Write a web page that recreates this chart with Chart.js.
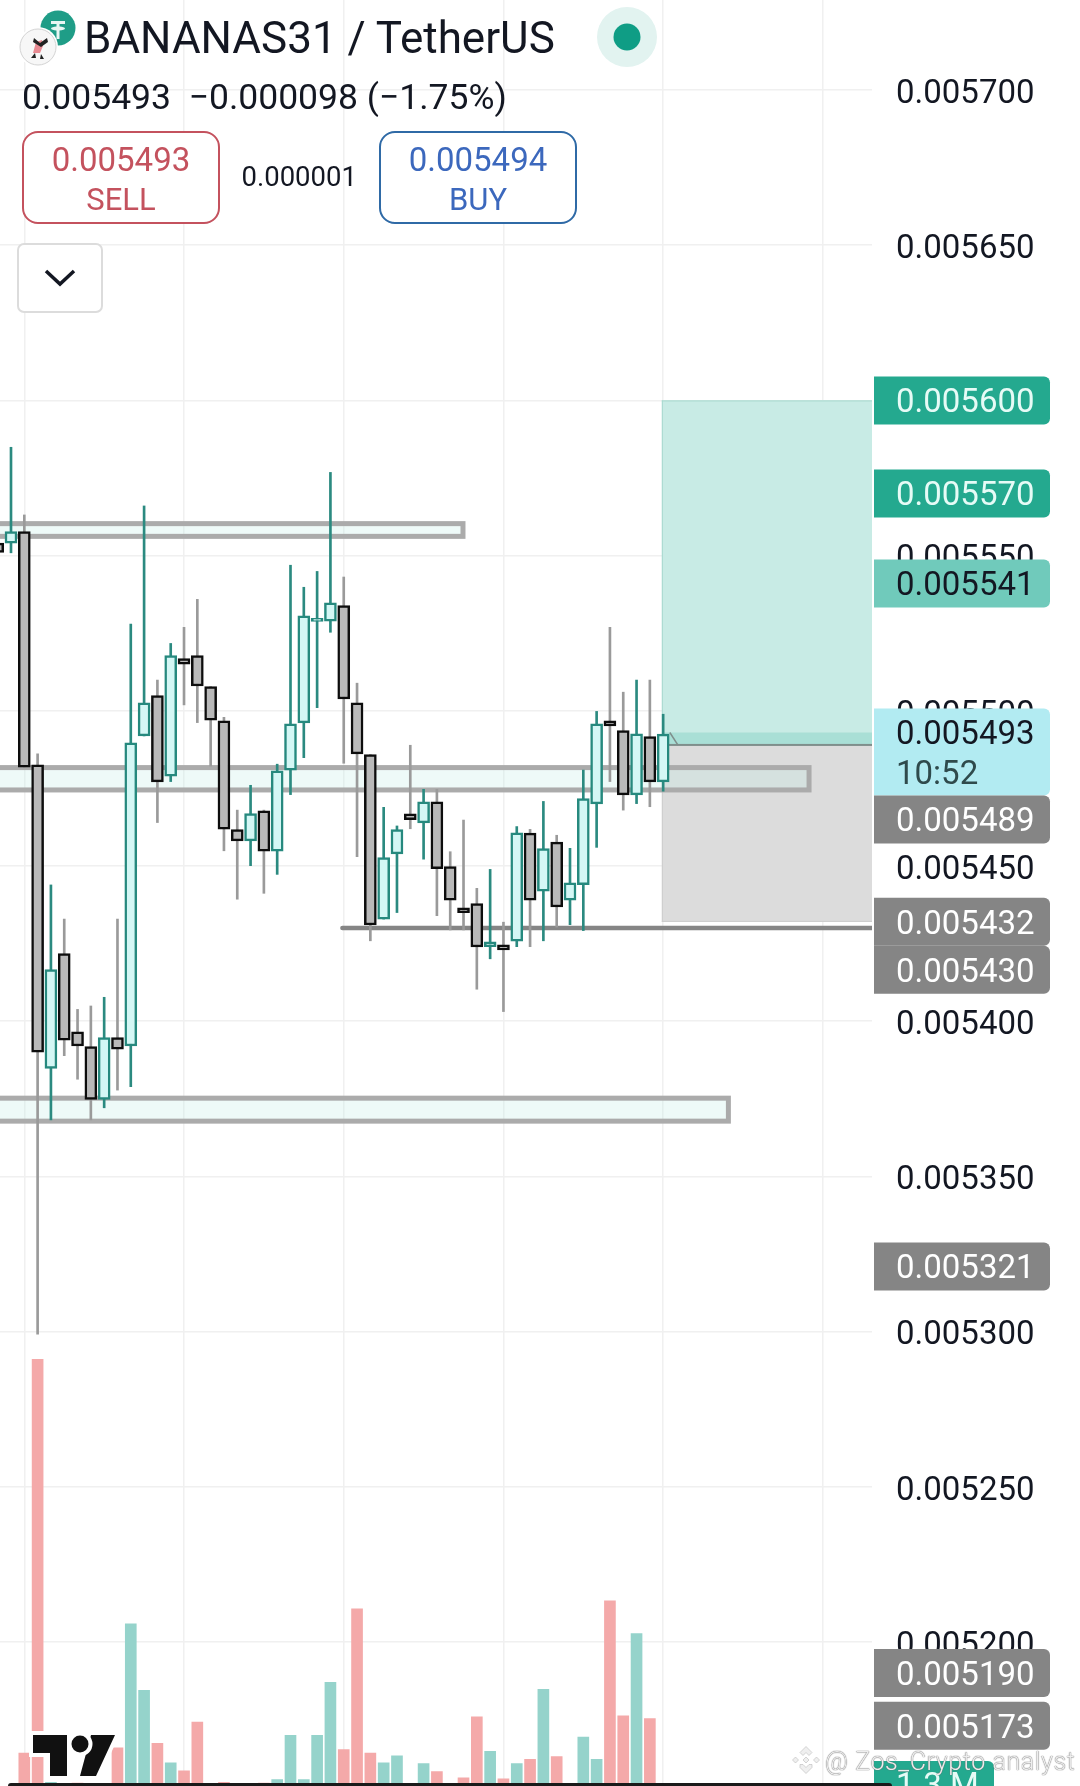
<!DOCTYPE html>
<html>
<head>
<meta charset="utf-8">
<title>BANANAS31 / TetherUS</title>
<script src="https://cdn.jsdelivr.net/npm/chart.js@4"></script>
<style>
html, body { margin: 0; padding: 0; background: #fff; }
#wrap { position: relative; width: 1080px; height: 1786px; overflow: hidden; font-family: Roboto, sans-serif; color: #131722; }
canvas { position: absolute; left: 0; top: 0; }
.txt { position: absolute; white-space: pre; line-height: 1; }
.btn { position: absolute; top: 131px; width: 198px; height: 93px; box-sizing: border-box; border: 2.500px solid; border-radius: 16px; background: #fff; text-align: center; }
.btn div { position: absolute; left: 0; right: 0; line-height: 1; }
.btn .p { top: 10px; font-size: 33px; }
.btn .s { top: 51px; font-size: 31px; }
#logo, #coins, #mark { position: absolute; }
#wm { position: absolute; left: 825px; top: 1749px; font-size: 25px; font-weight: 300; line-height: 1; white-space: pre; color: #eeeeee; text-shadow: 0 0 1px #666, 0 0 1px #777; letter-spacing: 0.6px; }
</style>
</head>
<body>
<div id="wrap">
  <canvas id="graphCanvas" width="1080" height="1786"></canvas>

  <svg id="coins" style="left:18px;top:8px" width="60" height="60" viewBox="0 0 60 60">
    <circle cx="40" cy="20" r="17.500" fill="#1f9d87"/>
    <path d="M33 13h14v3h-5.500v2.500c3 .3 5.500 1 5.500 2s-2.500 1.700-5.500 2V31h-3v-8.500c-3-.3-5.500-1-5.500-2s2.500-1.700 5.500-2V16H33z" fill="#e8f6f3"/>
    <circle cx="20" cy="39" r="20" fill="#fff"/>
    <circle cx="20" cy="39" r="18" fill="#f7f7f7" stroke="#d4d4d4" stroke-width="1"/>
    <path d="M15 45l3-11 6-2 1 6-3 7z" fill="#e88a92"/>
    <path d="M16 30l6 5 7-5 1 4-7 5-8-5zM13 50l4-5 1 5zM23 46l3 5h-4z" fill="#222"/>
  </svg>
  <div class="txt" style="left:84px;top:16px;font-size:44px">BANANAS31 / TetherUS</div>
  <svg id="mark" style="left:597px;top:7px" width="60" height="60" viewBox="0 0 60 60">
    <circle cx="30" cy="30" r="30" fill="#e2f3f0"/>
    <circle cx="30" cy="30" r="13.500" fill="#0f9d85"/>
  </svg>
  <div class="txt" style="left:22px;top:80px;font-size:35.500px">0.005493  −0.000098 (−1.75%)</div>

  <div class="btn" style="left:22px;border-color:#c4525e;color:#c4525e"><div class="p">0.005493</div><div class="s">SELL</div></div>
  <div class="txt" style="left:241.500px;top:163px;font-size:27.500px">0.000001</div>
  <div class="btn" style="left:379px;border-color:#2f6aa6;color:#3c68bd"><div class="p">0.005494</div><div class="s">BUY</div></div>

  <svg style="position:absolute;left:17px;top:243px" width="86" height="70" viewBox="0 0 86 70">
    <rect x="1" y="1" width="84" height="68" rx="6" fill="#fff" stroke="#dcdcdc" stroke-width="2"/>
    <path d="M29 28l14 13 14-13" fill="none" stroke="#131722" stroke-width="3.500"/>
  </svg>

  <svg id="logo" style="left:20px;top:1720px" width="110" height="66" viewBox="0 0 110 66">
    <g fill="#111" stroke="#fff" stroke-width="8" stroke-linejoin="miter" paint-order="stroke">
      <path d="M13 15h34v41H30V33H13zM71 15h24L76 56H60z"/>
      <circle cx="60" cy="24" r="8.500"/>
    </g>
  </svg>

  <svg style="position:absolute;left:791px;top:1745px" width="30" height="30" viewBox="0 0 40 40">
    <path d="M20 2l8 8-4 4-4-4-4 4-4-4zM6 16l4 4-4 4-4-4zM34 16l4 4-4 4-4-4zM20 16l4 4-4 4-4-4zM12 26l4 0 4 4 4-4 4 0 0 4-8 8-8-8z" fill="#efefef" stroke="#bbbbbb" stroke-width="0.800"/>
  </svg>
  <div id="wm">@ Zos_Crypto analyst</div>
</div>

<script>
// candele: l'indice 0 e la prima candela intera visibile
var candleIdx = [-1,0,1,2,3,4,5,6,7,8,9,10,11,12,13,14,15,16,17,18,19,20,21,22,23,24,25,26,27,28,29,30,31,32,33,34,35,36,37,38,39,40,41,42,43,44,45,46,47,48,49];

var opens = [0.0055540,0.0055540,0.0055577,0.0054826,0.0053848,0.0054218,0.0053966,0.0053918,0.0053748,0.0053947,0.0053920,0.0054919,0.0055049,0.0054789,0.0055168,0.0055178,0.0055078,0.0054968,0.0054617,0.0054581,0.0054678,0.0054548,0.0054809,0.0054961,0.0055288,0.0055289,0.0055339,0.0055026,0.0054859,0.0054329,0.0054539,0.0054668,0.0054639,0.0054707,0.0054498,0.0054365,0.0054379,0.0054240,0.0054246,0.0054258,0.0054606,0.0054419,0.0054577,0.0054390,0.0054440,0.0054700,0.0054968,0.0054936,0.0054729,0.0054917,0.0054771];
var highs = [0.0055560,0.0055849,0.0055631,0.0054861,0.0054439,0.0054329,0.0054038,0.0054049,0.0054077,0.0054329,0.0055279,0.0055660,0.0055099,0.0055217,0.0055269,0.0055359,0.0055078,0.0054979,0.0054680,0.0054760,0.0054680,0.0054828,0.0055469,0.0055398,0.0055449,0.0055768,0.0055431,0.0055089,0.0054859,0.0054689,0.0054629,0.0054889,0.0054747,0.0054747,0.0054546,0.0054648,0.0054428,0.0054489,0.0054319,0.0054627,0.0054618,0.0054708,0.0054599,0.0054557,0.0054809,0.0054998,0.0055269,0.0055060,0.0055099,0.0055099,0.0054989];
var lows = [0.0055510,0.0055509,0.0054818,0.0052992,0.0053682,0.0053889,0.0053813,0.0053682,0.0053721,0.0053778,0.0053789,0.0054919,0.0054640,0.0054772,0.0055019,0.0054962,0.0054822,0.0054549,0.0054393,0.0054501,0.0054412,0.0054473,0.0054730,0.0054849,0.0055010,0.0055253,0.0054831,0.0054530,0.0054259,0.0054329,0.0054350,0.0054620,0.0054522,0.0054340,0.0054294,0.0054294,0.0054103,0.0054201,0.0054031,0.0054240,0.0054240,0.0054259,0.0054303,0.0054311,0.0054292,0.0054560,0.0054772,0.0054680,0.0054701,0.0054691,0.0054741];
var closes = [0.0055510,0.0055577,0.0054818,0.0053900,0.0054166,0.0053939,0.0053920,0.0053748,0.0053947,0.0053910,0.0054897,0.0055026,0.0054771,0.0055178,0.0055150,0.0055080,0.0054970,0.0054619,0.0054581,0.0054669,0.0054548,0.0054807,0.0054958,0.0055306,0.0055298,0.0055348,0.0055038,0.0054861,0.0054310,0.0054527,0.0054617,0.0054649,0.0054707,0.0054491,0.0054390,0.0054350,0.0054239,0.0054256,0.0054230,0.0054607,0.0054390,0.0054556,0.0054368,0.0054446,0.0054717,0.0054958,0.0054951,0.0054729,0.0054926,0.0054771,0.0054925];

// volume in milioni, una barra per candela (null = nessuna barra leggibile)
var volumes = [null,null,1.66,6.11,1.33,1.31,1.32,1.31,1.31,1.72,3.12,2.37,1.77,1.55,1.46,2.01,null,1.33,null,null,1.32,1.36,1.86,1.36,1.86,2.46,1.70,3.29,1.66,1.55,1.63,null,1.54,1.45,null,1.38,2.07,1.68,1.37,1.54,1.59,2.38,1.62,null,1.84,1.59,3.38,2.08,3.01,2.05,1.30];

// righe verticali della griglia, ogni 12 candele
var timeTicks = [1,13,25,37,49,61];

// zone disegnate (prezzo alto, prezzo basso, fine a destra in indice candela)
var zoneTops = [0.0055603,0.0054817,0.0053752];
var zoneBottoms = [0.0055562,0.0054745,0.0053678];
var zoneEnds = [33.96,59.96,53.9];

// posizione long
var entryPrice = 0.005489;
var lastPrice = 0.005493;
var targetPrice = 0.005600;
var stopPrice = 0.005432;
var supportPrice = 0.005430;
var positionStart = 48.9;
var supportStart = 24.9;

// etichette sull'asse dei prezzi
var tagPrices = [0.005600,0.005570,0.005541,0.005493,0.005489,0.005432,0.005430,0.005321,0.005190,0.005173];
var tagLabels = ["0.005600","0.005570","0.005541","0.005493","0.005489","0.005432","0.005430","0.005321","0.005190","0.005173"];
var tagColors = ["#24a98f","#24a98f","#70cabb","#b2ebf2","#858585","#858585","#858585","#858585","#858585","#858585"];
var tagInk = ["#e6fbf6","#e6fbf6","#131722","#131722","#ffffff","#ffffff","#ffffff","#ffffff","#ffffff","#ffffff"];
var countdown = "10:52";
var volumeLabel = "1.3 M";
var lastVolume = 1.30;

var upBody = "#d4f7f5", upLine = "#26897e", upWick = "#2b8a80";
var downBody = "#b9b9b9", downLine = "#0d0d0d", downWick = "#9a9a9a";
var volUp = "#95d3cb", volDown = "#f4a9a9";

var isUp = closes.map(function (c, i) { return c >= opens[i]; });

function pairs(a, b) {
    return candleIdx.map(function (x, i) { return { x: x, y: [a[i], b[i]] }; });
}

// zone e posizione sotto le candele
var drawingsPlugin = {
    id: "drawings",
    beforeDatasetsDraw: function (chart) {
        var c = chart.ctx, xs = chart.scales.x, ys = chart.scales.y, area = chart.chartArea;
        c.save();
        c.beginPath();
        c.rect(area.left, area.top, area.width, area.height);
        c.clip();

        var px = xs.getPixelForValue(positionStart);
        var yTarget = ys.getPixelForValue(targetPrice), yEntry = ys.getPixelForValue(entryPrice), yStop = ys.getPixelForValue(stopPrice);
        c.fillStyle = "#c8ebe5";
        c.fillRect(px, yTarget, area.right - px, yEntry - yTarget);
        c.fillStyle = "#a9dfd6";
        c.fillRect(px, ys.getPixelForValue(lastPrice), area.right - px, yEntry - ys.getPixelForValue(lastPrice));
        c.fillStyle = "#dcdcdc";
        c.fillRect(px, yEntry, area.right - px, yStop - yEntry);
        // bordi sottili della posizione
        c.fillStyle = "#a8d8cf";
        c.fillRect(px, yTarget, area.right - px, 1);
        c.fillRect(px, yTarget, 1, yEntry - yTarget);
        c.fillStyle = "#cccccc";
        c.fillRect(px, yStop - 1, area.right - px, 1);
        c.fillRect(px, yEntry, 1, yStop - yEntry);
        c.fillStyle = "#7f8f8c";
        c.fillRect(px, yEntry - 1, area.right - px, 2);

        // linea di supporto
        c.strokeStyle = "#858585";
        c.lineWidth = 4.5;
        c.lineCap = "round";
        c.beginPath();
        c.moveTo(xs.getPixelForValue(supportStart), ys.getPixelForValue(supportPrice));
        c.lineTo(area.right + 5, ys.getPixelForValue(supportPrice));
        c.stroke();
        c.lineCap = "butt";

        zoneTops.forEach(function (top, i) {
            var yTop = ys.getPixelForValue(top), yBot = ys.getPixelForValue(zoneBottoms[i]);
            var xEnd = xs.getPixelForValue(zoneEnds[i]);
            c.fillStyle = "rgba(200,240,232,0.3)";
            c.fillRect(-10, yTop, xEnd + 10, yBot - yTop);
            c.strokeStyle = "#ababab";
            c.lineWidth = 5;
            c.strokeRect(-10, yTop, xEnd + 10, yBot - yTop);
        });
        c.restore();
    },
    afterDatasetsDraw: function (chart) {
        // piccola freccia della posizione, sopra le candele
        var c = chart.ctx, xs = chart.scales.x, ys = chart.scales.y;
        c.save();
        c.strokeStyle = "#7f8f8c";
        c.lineWidth = 1.5;
        c.beginPath();
        c.moveTo(xs.getPixelForValue(positionStart + 0.6), ys.getPixelForValue(lastPrice));
        c.lineTo(xs.getPixelForValue(positionStart + 1.2), ys.getPixelForValue(entryPrice));
        c.stroke();
        c.restore();
    }
};

// etichette di prezzo: come su TradingView si spingono in basso se si sovrappongono
var tagsPlugin = {
    id: "priceTags",
    afterDraw: function (chart) {
        var c = chart.ctx, ys = chart.scales.y, area = chart.chartArea;
        var left = area.right + 2, w = 176, h = 48, textX = 896, prevBottom = -1000;
        c.save();
        c.font = "33px Roboto";
        c.textBaseline = "middle";
        tagPrices.forEach(function (p, i) {
            var mid = ys.getPixelForValue(p);
            var top = Math.max(mid - h / 2, prevBottom);
            var bh = h;
            if (tagLabels[i] === "0.005493") { bh = 87; }
            c.fillStyle = tagColors[i];
            c.beginPath();
            c.roundRect(left, top, w, bh, [0, 6, 6, 0]);
            c.fill();
            c.fillStyle = tagInk[i];
            c.fillText(tagLabels[i], textX, top + 27.5);
            if (bh > h) {
                c.fillStyle = "#2f4a4c";
                c.fillText(countdown, textX, top + 67);
            }
            prevBottom = top + bh;
        });
        // etichetta del volume
        var vy = chart.scales.vol.getPixelForValue(lastVolume);
        c.fillStyle = "#24a98f";
        c.beginPath();
        c.roundRect(left, vy - 24, 120, 48, [0, 6, 6, 0]);
        c.fill();
        c.fillStyle = "#e6fbf6";
        c.fillText(volumeLabel, textX, vy + 3);
        // striscia scura in fondo allo schermo
        c.fillStyle = "#1a1a1a";
        c.beginPath();
        c.roundRect(8, area.bottom - 3, 884, 6, 3);
        c.fill();
        c.restore();
    }
};

var lineGraph = new Chart(document.getElementById("graphCanvas"), {
    type: "bar",
    data: {
        datasets: [
            {
                label: "Volume",
                yAxisID: "vol",
                data: candleIdx.map(function (x, i) { return { x: x, y: volumes[i] }; }),
                backgroundColor: isUp.map(function (u) { return u ? volUp : volDown; }),
                barThickness: 11,
                grouped: false,
                order: 5
            },
            {
                label: "Wicks",
                yAxisID: "y",
                data: pairs(lows, highs),
                backgroundColor: isUp.map(function (u) { return u ? upWick : downWick; }),
                barThickness: 2,
                grouped: false,
                order: 3
            },
            {
                label: "Bodies",
                yAxisID: "y",
                data: pairs(opens, closes),
                backgroundColor: isUp.map(function (u) { return u ? upBody : downBody; }),
                borderColor: isUp.map(function (u) { return u ? upLine : downLine; }),
                borderWidth: 2.5,
                borderSkipped: false,
                barThickness: 12,
                grouped: false,
                order: 1
            }
        ]
    },
    options: {
        responsive: false,
        animation: false,
        devicePixelRatio: 1,
        layout: { padding: 0 },
        plugins: { legend: { display: false }, tooltip: { enabled: false }, title: { display: false } },
        scales: {
            x: {
                type: "linear",
                min: -0.826,
                max: 64.69,
                offset: false,
                border: { display: false },
                grid: { color: "#f0f0f0", lineWidth: 1.5, drawTicks: false, offset: false },
                ticks: { display: false },
                afterBuildTicks: function (axis) {
                    axis.ticks = timeTicks.map(function (v) { return { value: v }; });
                },
                afterFit: function (axis) {
                    axis.height = 0;
                    axis.paddingLeft = 0;
                    axis.paddingRight = 0;
                }
            },
            y: {
                position: "right",
                min: 0.0051536,
                max: 0.005729,
                border: { display: false },
                grid: { color: "#f0f0f0", lineWidth: 1.5, drawTicks: false },
                ticks: {
                    stepSize: 0.00005,
                    includeBounds: false,
                    padding: 24,
                    color: "#131722",
                    // riga vuota + lineHeight piccola: abbassa il testo di 4-5 px sulla griglia
                    font: { family: "Roboto", size: 33, lineHeight: "9px" },
                    callback: function (value) { return ["", value.toFixed(6)]; }
                },
                afterFit: function (axis) {
                    axis.width = 208;
                    axis.paddingTop = 0;
                    axis.paddingBottom = 0;
                }
            },
            vol: {
                display: false,
                min: 1.288,
                max: 21.47,
                grid: { display: false }
            }
        }
    },
    plugins: [drawingsPlugin, tagsPlugin]
});
</script>
</body>
</html>
